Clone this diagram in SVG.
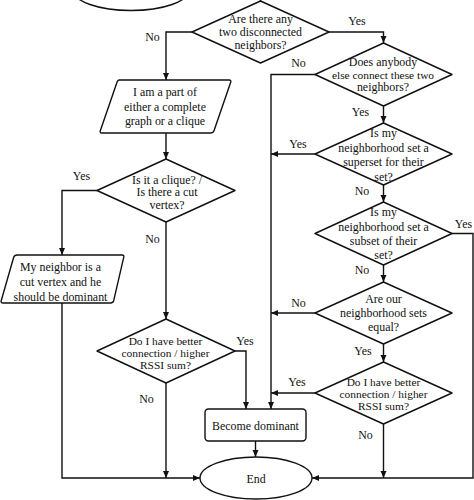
<svg xmlns="http://www.w3.org/2000/svg" width="474" height="500" viewBox="0 0 474 500">
<defs>
<marker id="ah" markerUnits="userSpaceOnUse" markerWidth="8" markerHeight="7" refX="7" refY="3" orient="auto">
<path d="M0,0 L7,3 L0,6 z" fill="#111"/>
</marker>
<style>
.s{fill:#fff;stroke:#111;stroke-width:1.4;stroke-linejoin:round}
.c{fill:none;stroke:#111;stroke-width:1.4;marker-end:url(#ah)}
.p{fill:none;stroke:#111;stroke-width:1.4}
text{font-family:'Liberation Serif','DejaVu Serif','Times New Roman',serif;font-size:11.9px;fill:#111;text-anchor:middle;dominant-baseline:central}
.t{font-size:11.4px}
</style>
</defs>
<rect width="474" height="500" fill="#fff"/>
<g id="connectors">
<line class="p" x1="260.5" y1="-5" x2="260.5" y2="1"/>
<polyline class="c" points="192,32 166,32 166,80"/>
<polyline class="c" points="329,32 383.5,32 383.5,43"/>
<polyline class="c" points="315,74.5 271,74.5 271,409"/>
<polyline class="c" points="166,133 166,159"/>
<polyline class="c" points="383.5,106 383.5,123"/>
<polyline class="c" points="315,154 271,154"/>
<polyline class="c" points="97,190.5 62,190.5 62,255"/>
<polyline class="c" points="166,222 166,319"/>
<polyline class="c" points="383.5,185 383.5,202"/>
<polyline class="c" points="452,233.5 473,233.5 473,478 312,478"/>
<polyline class="c" points="383.5,265 383.5,282"/>
<polyline class="c" points="315,313 271,313"/>
<polyline class="c" points="383.5,344 383.5,362"/>
<polyline class="c" points="315,393 271,393"/>
<polyline class="c" points="383.5,424 383.5,478"/>
<polyline class="c" points="235,351 246,351 246,409"/>
<polyline class="c" points="166,383 166,478"/>
<polyline class="c" points="62,303 62,478 200,478"/>
<polyline class="c" points="255.5,441 255.5,457"/>
<text x="152.5" y="37">No</text>
<text x="357" y="21">Yes</text>
<text x="298.5" y="63">No</text>
<text x="360.5" y="112">Yes</text>
<text x="298" y="144">Yes</text>
<text x="81.5" y="176">Yes</text>
<text x="152.5" y="239">No</text>
<text x="362" y="191">No</text>
<text x="463.5" y="224">Yes</text>
<text x="362" y="270">No</text>
<text x="298.5" y="303">No</text>
<text x="363" y="351">Yes</text>
<text x="297" y="382">Yes</text>
<text x="365.5" y="435">No</text>
<text x="245" y="341">Yes</text>
<text x="146.5" y="399">No</text>
</g>
<g id="start">
<ellipse class="s" cx="131" cy="-10" rx="58" ry="20.5"/>
</g>
<g id="d1">
<polygon class="s" points="260.5,1 329,32 260.5,63 192,32"/>
<text x="260.5" y="19">Are there any</text>
<text x="260.5" y="32">two disconnected</text>
<text x="260.5" y="45">neighbors?</text>
</g>
<g id="d2">
<polygon class="s" points="383.5,43 452,74.5 383.5,106 315,74.5"/>
<text x="383" y="62">Does anybody</text>
<text class="t" x="383" y="74.5">else connect these two</text>
<text x="383" y="87">neighbors?</text>
</g>
<g id="p1">
<path class="s" d="M119,80 L229,80 Q231.5,80 230.7,82.3 L214,130.7 Q213.2,133 210.8,133 L102,133 Q99.5,133 100.3,130.7 L117,82.3 Q117.8,80 119,80 z"/>
<text x="165" y="92">I am a part of</text>
<text x="165" y="106.5">either a complete</text>
<text x="165" y="121">graph or a clique</text>
</g>
<g id="d3r">
<polygon class="s" points="383.5,123 452,154 383.5,185 315,154"/>
<text x="383.5" y="133">Is my</text>
<text x="383.5" y="147.5">neighborhood set a</text>
<text x="383.5" y="162">superset for their</text>
<text x="383.5" y="176.5">set?</text>
</g>
<g id="dl3">
<polygon class="s" points="166,159 235,190.5 166,222 97,190.5"/>
<text x="167" y="179.5">Is it a clique? /</text>
<text x="167" y="192">Is there a cut</text>
<text x="167" y="204.5">vertex?</text>
</g>
<g id="p2">
<path class="s" d="M17,255 L122,255 Q124.5,255 123.7,257.3 L113.7,300.7 Q113,303 110.5,303 L3,303 Q0.5,303 1.2,300.7 L13.7,257.3 Q14.5,255 17,255 z"/>
<text x="60.5" y="267">My neighbor is a</text>
<text x="60.5" y="282">cut vertex and he</text>
<text x="60.5" y="297">should be dominant</text>
</g>
<g id="d4r">
<polygon class="s" points="383.5,202 452,233.5 383.5,265 315,233.5"/>
<text x="383.5" y="212">Is my</text>
<text x="383.5" y="226.5">neighborhood set a</text>
<text x="383.5" y="241">subset of their</text>
<text x="383.5" y="254.5">set?</text>
</g>
<g id="d5r">
<polygon class="s" points="383.5,282 452,313 383.5,344 315,313"/>
<text x="383.5" y="299">Are our</text>
<text x="383.5" y="313">neighborhood sets</text>
<text x="383.5" y="327">equal?</text>
</g>
<g id="dl4">
<polygon class="s" points="166,319 235,351 166,383 97,351"/>
<text class="t" x="165.5" y="340.5">Do I have better</text>
<text class="t" x="165.5" y="352.5">connection / higher</text>
<text class="t" x="165.5" y="364.5">RSSI sum?</text>
</g>
<g id="d6r">
<polygon class="s" points="383.5,362 452,393 383.5,424 315,393"/>
<text class="t" x="383.5" y="381.5">Do I have better</text>
<text class="t" x="383.5" y="393.5">connection / higher</text>
<text class="t" x="383.5" y="405.5">RSSI sum?</text>
</g>
<g id="become">
<rect class="s" x="205" y="409" width="101" height="32" rx="3.5"/>
<text x="255.5" y="425.5">Become dominant</text>
</g>
<g id="end">
<ellipse class="s" cx="256" cy="478" rx="56" ry="21"/>
<text x="256" y="478.5">End</text>
</g>
</svg>
